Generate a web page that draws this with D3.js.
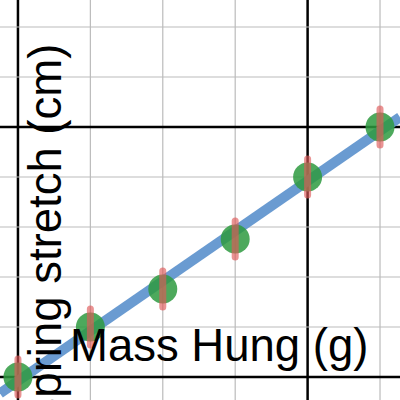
<!DOCTYPE html><html><head><script src="https://cdn.jsdelivr.net/npm/d3@7"></script>
<style>body{margin:0}svg{display:block}</style></head><body><svg width="400" height="400"></svg><script>
const mass=[0,50,100,150,200,250];
const stretch=[0,1,1.76,2.76,4,5];
const err=[0.36,0.36,0.36,0.36,0.36,0.36];
const yTicks=[-1,0,1,2,3,4,5,6,7];
const svg=d3.select("svg");
const x=d3.scaleLinear().domain([-12.4,263.8]).range([0,400]);
const y=d3.scaleLinear().domain([-0.46,7.54]).range([400,0]);
const g=svg.append("g");
[-50,0,50,100,150,200,250,300].forEach(v=>g.append("line").attr("x1",x(v)).attr("x2",x(v)).attr("y1",0).attr("y2",400).attr("stroke",v%200===0?"#000":"#bbb").attr("stroke-width",v%200===0?2.5:1.2));
yTicks.forEach(v=>g.append("line").attr("y1",y(v)).attr("y2",y(v)).attr("x1",0).attr("x2",400).attr("stroke",v%5===0?"#000":"#bbb").attr("stroke-width",v%5===0?2.5:1.2));
const mx=d3.mean(mass),my=d3.mean(stretch);
const b=d3.sum(mass.map((m,i)=>(m-mx)*(stretch[i]-my)))/d3.sum(mass.map(m=>(m-mx)**2));
const a=my-b*mx;
svg.append("line").attr("x1",x(-12.4)).attr("y1",y(a+b*-12.4)).attr("x2",x(263.8)).attr("y2",y(a+b*263.8)).attr("stroke","#6a9bd1").attr("stroke-width",10);
svg.selectAll("circle").data(mass).join("circle").attr("cx",d=>x(d)).attr("cy",(d,i)=>y(stretch[i])).attr("r",14.5).attr("fill","#2e9a40").attr("opacity",0.85);
svg.selectAll(".eb").data(mass).join("line").attr("x1",d=>x(d)).attr("x2",d=>x(d)).attr("y1",(d,i)=>y(stretch[i]+err[i])).attr("y2",(d,i)=>y(stretch[i]-err[i])).attr("stroke","#e05a5a").attr("stroke-width",7).attr("stroke-linecap","round").attr("opacity",0.65);
svg.append("text").attr("x",70).attr("y",361).attr("font-family","Liberation Sans, Arial").attr("font-size",45.5).text("Mass Hung (g)");
svg.append("text").attr("transform","translate(61,400) rotate(-90)").attr("x",-28).attr("font-family","Liberation Sans, Arial").attr("font-size",45.5).text("Spring stretch (cm)");
</script></body></html>
